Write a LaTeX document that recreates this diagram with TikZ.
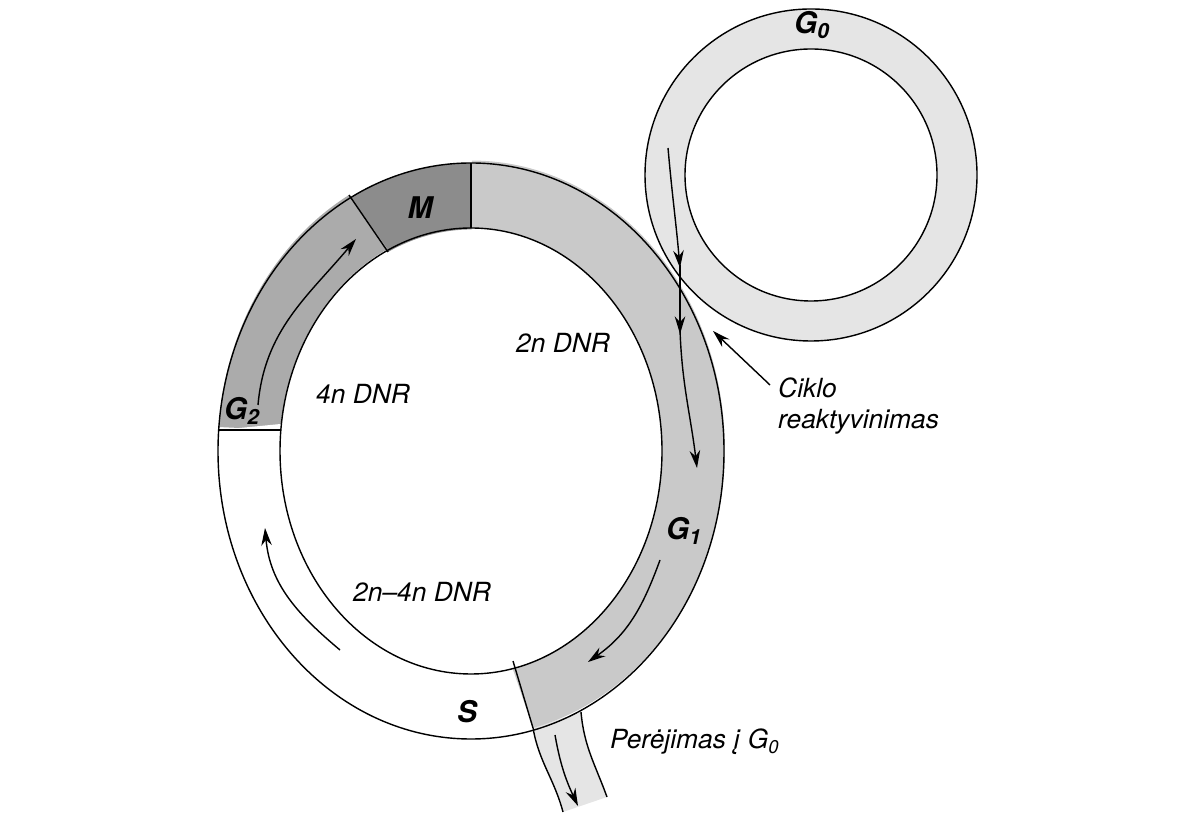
\documentclass[tikz,border=0pt]{standalone}
\usepackage{fontspec}
\setmainfont{TeX Gyre Heros}
\usetikzlibrary{arrows.meta}
\definecolor{mgray}{gray}{0.55}
\definecolor{gtwo}{gray}{0.67}
\definecolor{gone}{gray}{0.79}
\definecolor{gzero}{gray}{0.9}
\tikzset{
	>={Stealth[length=10pt,width=6pt]}, % arrow heads
	ring/.style={draw=black, line width=0.8pt}, % outlines of the rings
	flow/.style={->, line width=0.8pt}, % arrows along the cycle
	phase/.style={font=\fontsize{17}{20}\selectfont\bfseries\itshape}, % G0, G1, ...
	amount/.style={font=\fontsize{15}{18}\selectfont\itshape}, % DNR labels
}
\begin{document}
\begin{tikzpicture}[x=0.02cm,y=0.02cm]
	\useasboundingbox (0,0) rectangle (1195,814);
	% G0 ring
	\fill[gzero,even odd rule] (811,639) circle (166) (811,639) circle (126);
	\draw[ring] (811,639) circle (166);
	\draw[ring] (811,639) circle (126);
	% exit strip
	\fill[gzero] (533,86) to[out=-80,in=105] (563,2) -- (607,17) to[out=110,in=-85] (581,102) -- cycle;
	\draw[ring] (533,86) to[out=-80,in=105] (563,2);
	\draw[ring] (581,102) to[out=-85,in=110] (607,17);
	% phases of the main ring
	\fill[mgray] (471,651) arc[start angle=90,end angle=118.9,x radius=253,y radius=288]
		-- (388,562) arc[start angle=116,end angle=90,x radius=191,y radius=223] -- cycle;
	\fill[gtwo] (349,619) arc[start angle=118.9,end angle=176,x radius=253,y radius=288]
		-- (281,384) arc[start angle=175,end angle=116,x radius=191,y radius=223] -- cycle;
	\fill[white] (219,384) arc[start angle=176,end angle=284,x radius=253,y radius=288]
		-- (513,153) arc[start angle=282.6,end angle=175,x radius=191,y radius=223] -- cycle;
	\fill[gone] (533,86) arc[start angle=-76,end angle=90,x radius=253,y radius=288]
		-- (471,586) arc[start angle=90,end angle=-77.4,x radius=191,y radius=223] -- cycle;
	\draw[ring] (471,363) ellipse[x radius=253,y radius=288];
	\draw[ring] (471,363) ellipse[x radius=191,y radius=223];
	\draw[ring] (471,651) -- (471,586);
	\draw[ring] (349,619) -- (388,562);
	\draw[ring] (219,384) -- (281,384);
	\draw[ring] (533,86) -- (513,153);
	% arrows
	\draw[flow] (668,666) to[out=-85,in=95] (680,546);
	\draw[flow] (680,549) -- (680,480);
	\draw[flow] (680,484) to[out=-88,in=97] (697,346);
	\draw[flow] (660,254) to[out=-110,in=35] (588,152);
	\draw[flow] (340,164) to[out=140,in=-85] (265,286);
	\draw[flow] (258,409) to[out=85,in=-130] (356,575);
	\draw[flow] (770,429) -- (713,483);
	\draw[flow] (555,79) to[out=-80,in=115] (578,8);
	% labels
	\node[phase] (g0) at (812,789) {G\textsubscript{0}};
	\node[phase] (m) at (420,606) {M};
	\node[phase] (g2) at (242,403) {G\textsubscript{2}};
	\node[phase] (g1) at (684,283) {G\textsubscript{1}};
	\node[phase] (s) at (467,102) {S};
	\node[amount] (two) at (563,471) {2n DNR};
	\node[amount] (four) at (363,420) {4n DNR};
	\node[amount] (mix) at (422,222) {2n–4n DNR};
	\node[amount,anchor=west,align=left] (ciklo) at (772,408) {Ciklo\\reaktyvinimas};
	\node[amount,anchor=west] (exit) at (604,72) {Perėjimas į G\textsubscript{0}};
\end{tikzpicture}
\end{document}
